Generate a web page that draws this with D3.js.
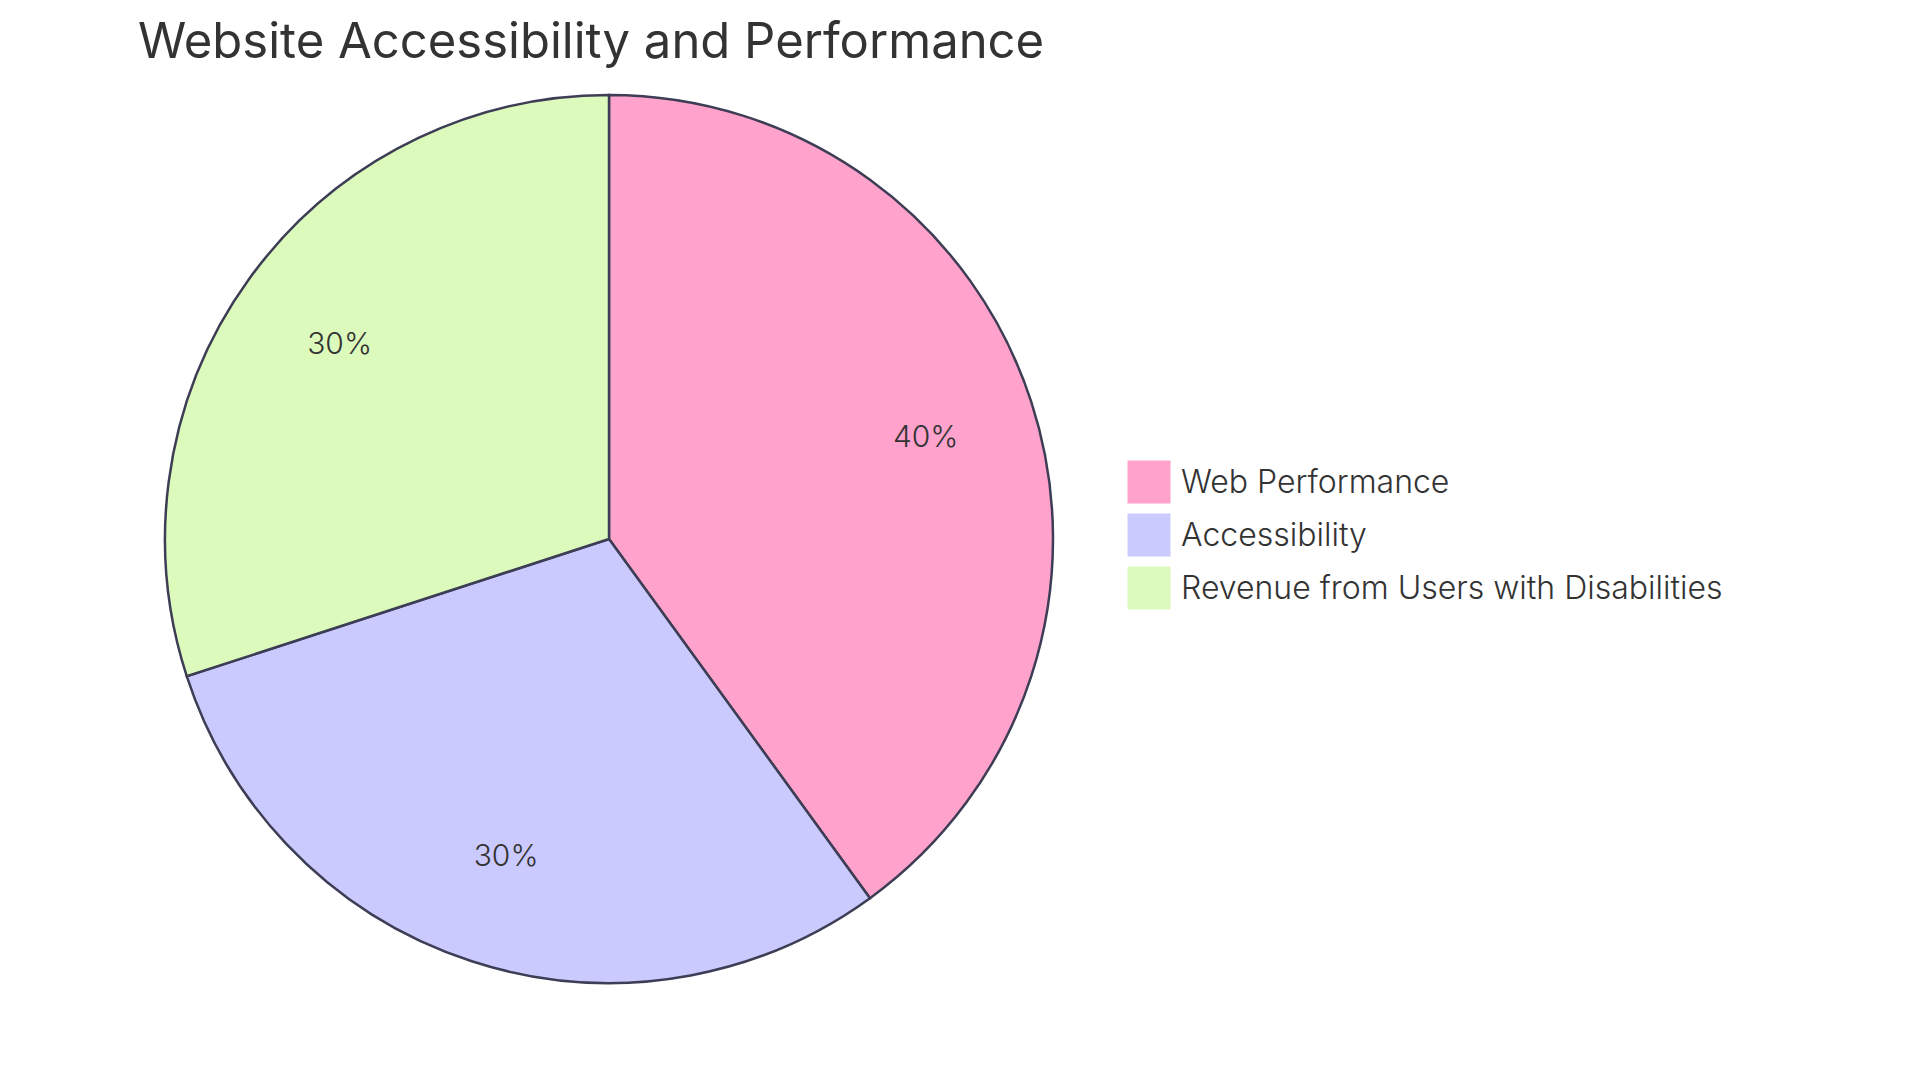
<!DOCTYPE html>
<html><head><meta charset="utf-8">
<script src="https://cdn.jsdelivr.net/npm/d3@7"></script>
<style>body{margin:0;background:#fff;font-family:Inter,"Open Sans",sans-serif;}</style>
</head><body>
<svg id="c" width="1920" height="1080"></svg>
<script>
const categories=["Web Performance","Accessibility","Revenue from Users with Disabilities"];
const values=[40,30,30];
const colors=["#ffa2cc","#cacaff","#dcfabc"];
const svg=d3.select("#c");
const cx=609,cy=539,R=444;
svg.append("text").attr("x",138).attr("y",58).attr("font-size",49).attr("fill","#333").text("Website Accessibility and Performance");
const pie=d3.pie().sort(null)(values);
const arc=d3.arc().innerRadius(0).outerRadius(R);
const lab=d3.arc().innerRadius(R*0.75).outerRadius(R*0.75);
const g=svg.append("g").attr("transform",`translate(${cx},${cy})`);
g.selectAll("path").data(pie).join("path").attr("d",arc).attr("fill",(d,i)=>colors[i]).attr("stroke","#3d3d55").attr("stroke-width",2.5);
const total=d3.sum(values);
g.selectAll("text").data(pie).join("text").attr("transform",d=>`translate(${lab.centroid(d)})`)
 .attr("text-anchor","middle").attr("dy","0.35em").attr("font-size",30).attr("font-weight",300).attr("fill","#333")
 .text(d=>Math.round(d.data/total*100)+"%");
const lg=svg.append("g").attr("transform","translate(1127,460)");
const it=lg.selectAll("g").data(categories).join("g").attr("transform",(d,i)=>`translate(0,${i*53})`);
it.append("rect").attr("width",44).attr("height",44).attr("fill",(d,i)=>colors[i]).attr("stroke","#fff").attr("stroke-width",1);
it.append("text").attr("x",54).attr("y",22).attr("dy","0.35em").attr("font-size",32).attr("font-weight",300).attr("fill","#333").text(d=>d);
</script></body></html>
